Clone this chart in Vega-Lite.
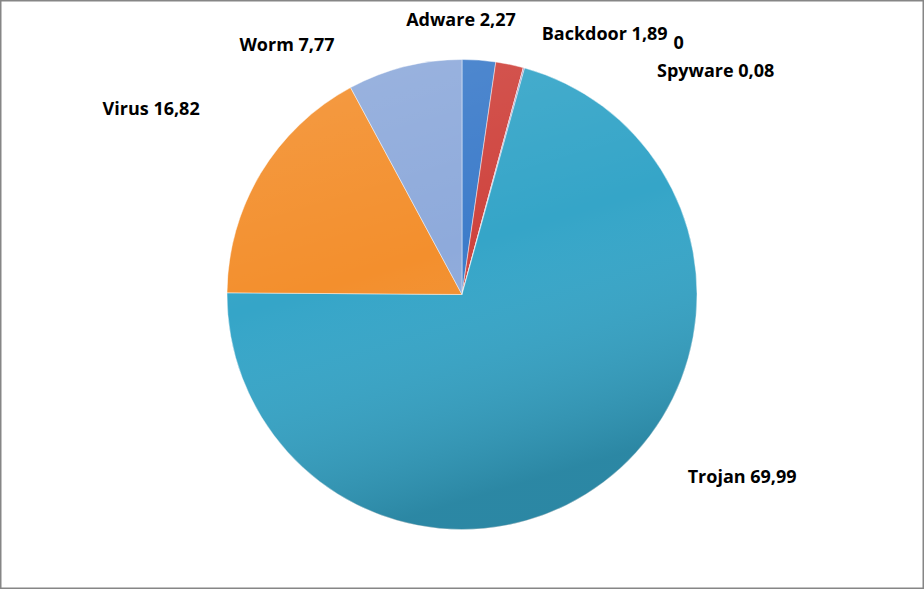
{
  "$schema": "https://vega.github.io/schema/vega-lite/v6.json",
  "width": 924,
  "height": 589,
  "autosize": {"type": "none"},
  "padding": 0,
  "background": "white",
  "data": {
    "values": [
      {"k": 1, "type": "Adware", "share": 2.27, "label": "Adware 2,27"},
      {"k": 2, "type": "Backdoor", "share": 1.89, "label": "Backdoor 1,89"},
      {"k": 3, "type": "", "share": 0, "label": "0"},
      {"k": 4, "type": "Spyware", "share": 0.08, "label": "Spyware 0,08"},
      {"k": 5, "type": "Trojan", "share": 69.99, "label": "Trojan 69,99"},
      {"k": 6, "type": "Virus", "share": 16.82, "label": "Virus 16,82"},
      {"k": 7, "type": "Worm", "share": 7.77, "label": "Worm 7,77"}
    ]
  },
  "encoding": {
    "theta": {"field": "share", "type": "quantitative", "stack": true},
    "order": {"field": "k", "type": "quantitative"}
  },
  "layer": [
    {
      "mark": {"type": "arc", "outerRadius": 235, "stroke": "#ffffff", "strokeOpacity": 0.45, "strokeWidth": 1},
      "encoding": {
        "color": {
          "field": "type",
          "type": "nominal",
          "legend": null,
          "sort": null,
          "scale": {
            "domain": ["Adware", "Backdoor", "", "Spyware", "Trojan", "Virus", "Worm"],
            "range": ["#3d7cca", "#cf443e", "#9bbb59", "#8064a2", "#35a5c8", "#f38f2d", "#8eaadb"]
          }
        }
      }
    },
    {
      "data": {"values": [{}]},
      "mark": {
        "type": "arc",
        "outerRadius": 235,
        "theta": 0,
        "theta2": 6.2832,
        "fill": {
          "gradient": "linear",
          "x1": 0, "y1": 0, "x2": 0.3, "y2": 1,
          "stops": [
            {"offset": 0, "color": "rgba(255,255,255,0.12)"},
            {"offset": 0.5, "color": "rgba(255,255,255,0)"},
            {"offset": 1, "color": "rgba(0,0,0,0.18)"}
          ]
        }
      },
      "encoding": {"theta": null, "order": null}
    },
    {
      "mark": {"type": "text", "radius": 235, "font": "Open Sans", "fontWeight": "bold", "fontSize": 18, "color": "#000000", "baseline": "middle", "align": "center", "dx": -18, "dy": -39},
      "encoding": {"text": {"condition": {"test": "datum.k == 1", "field": "label"}, "value": ""}}
    },
    {
      "mark": {"type": "text", "radius": 235, "font": "Open Sans", "fontWeight": "bold", "fontSize": 18, "color": "#000000", "baseline": "middle", "align": "left", "dx": 32, "dy": -29},
      "encoding": {"text": {"condition": {"test": "datum.k == 2", "field": "label"}, "value": ""}}
    },
    {
      "mark": {"type": "text", "radius": 235, "font": "Open Sans", "fontWeight": "bold", "fontSize": 18, "color": "#000000", "baseline": "middle", "align": "left", "dx": 150, "dy": -24},
      "encoding": {"text": {"condition": {"test": "datum.k == 3", "field": "label"}, "value": ""}}
    },
    {
      "mark": {"type": "text", "radius": 235, "font": "Open Sans", "fontWeight": "bold", "fontSize": 18, "color": "#000000", "baseline": "middle", "align": "left", "dx": 133, "dy": 4},
      "encoding": {"text": {"condition": {"test": "datum.k == 4", "field": "label"}, "value": ""}}
    },
    {
      "mark": {"type": "text", "radius": 235, "font": "Open Sans", "fontWeight": "bold", "fontSize": 18, "color": "#000000", "baseline": "middle", "align": "left", "dx": 84, "dy": -4},
      "encoding": {"text": {"condition": {"test": "datum.k == 5", "field": "label"}, "value": ""}}
    },
    {
      "mark": {"type": "text", "radius": 235, "font": "Open Sans", "fontWeight": "bold", "fontSize": 18, "color": "#000000", "baseline": "middle", "align": "right", "dx": -61, "dy": -63},
      "encoding": {"text": {"condition": {"test": "datum.k == 6", "field": "label"}, "value": ""}}
    },
    {
      "mark": {"type": "text", "radius": 235, "font": "Open Sans", "fontWeight": "bold", "fontSize": 18, "color": "#000000", "baseline": "middle", "align": "right", "dx": -70, "dy": -21},
      "encoding": {"text": {"condition": {"test": "datum.k == 7", "field": "label"}, "value": ""}}
    }
  ],
  "config": {
    "view": {"stroke": "#868686", "strokeWidth": 3},
    "style": {"view": {"stroke": "#868686", "strokeWidth": 3}}
  }
}
